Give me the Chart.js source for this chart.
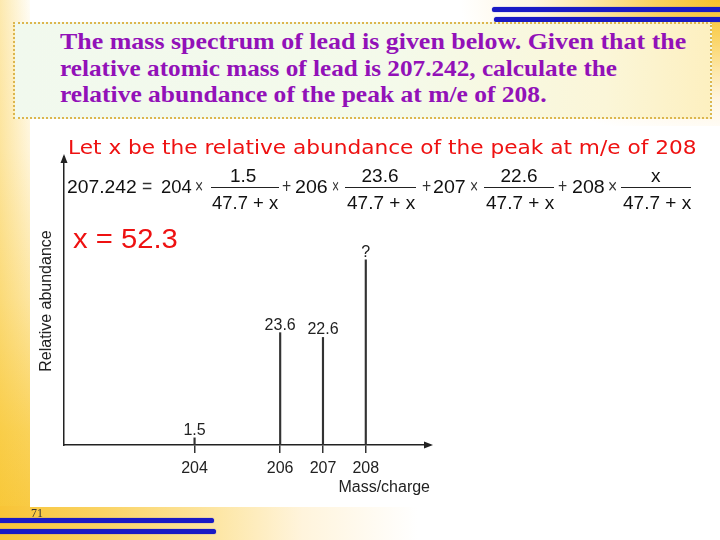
<!DOCTYPE html>
<html>
<head>
<meta charset="utf-8">
<script src="https://cdn.jsdelivr.net/npm/chart.js@4/dist/chart.umd.min.js"></script>
<style>
  html, body { margin: 0; padding: 0; background: #fff; }
  #slide { position: relative; width: 720px; height: 540px; overflow: hidden; background: #fff; }
  #slide > div { position: absolute; }
  .bg-left {
    left: 0; top: 0; width: 30px; height: 540px;
    background:
      linear-gradient(to right, rgba(247, 196, 40, 0.35), rgba(255, 255, 255, 0)),
      linear-gradient(to bottom, #fffdf7 0%, #fff5da 28%, #fde6a2 55%, #fad259 80%, #f8c73a 100%);
  }
  .bg-tr {
    right: 0; top: 0; width: 300px; height: 150px;
    background: radial-gradient(ellipse 260px 140px at 100% 0%, #f8c02a 0%, #fad25e 25%, #fde7a8 50%, #fff6e2 72%, rgba(255, 255, 255, 0) 100%);
  }
  .bg-bottom {
    left: 0; top: 506px; width: 720px; height: 34px;
    background: linear-gradient(to right, #f8c436 0%, #fad363 14%, #fde6a4 30%, #fff4dc 42%, rgba(255, 255, 255, 0) 58%);
  }
  .panel { left: 30px; top: 126px; width: 690px; height: 381px; background: #fff; }
  .rule { height: 5px; border-radius: 3px; background: #1a1ac4; box-shadow: 0 0 1px #3030d0; }
  .box {
    left: 13px; top: 22px; width: 695px; height: 93px;
    border: 2px dotted #dcb64e;
    background: linear-gradient(to right, #f1f9ee 0%, #f4faea 55%, #fbf6d8 85%, #fdf0c0 100%);
  }
  .t { position: absolute; white-space: nowrap; line-height: 1; transform-origin: 0 0; }
  .title { font: bold 23px "Liberation Serif", serif; color: #9211b8; }
  .red { color: #ee1111; }
  .fx { font: 19px "Liberation Sans", Arial, sans-serif; color: #111; }
  .op { color: #333; font-size: 21px; }
  .bar { position: absolute; height: 1px; background: #222; }
  #chart { position: absolute; left: 0; top: 0; }
</style>
</head>
<body>
<div id="slide">
  <div class="bg-left"></div>
  <div class="bg-tr"></div>
  <div class="bg-bottom"></div>
  <div class="panel"></div>

  <div class="rule" style="left:492px; top:7px; width:240px;"></div>
  <div class="rule" style="left:494px; top:17px; width:240px;"></div>
  <div class="rule" style="left:-10px; top:518px; width:224px;"></div>
  <div class="rule" style="left:-10px; top:529px; width:226px;"></div>

  <div class="box"></div>
  <span class="t title" style="left:60px; top:28.7px;" data-w="626">The mass spectrum of lead is given below. Given that the</span>
  <span class="t title" style="left:60px; top:55.7px;" data-w="557">relative atomic mass of lead is 207.242, calculate the</span>
  <span class="t title" style="left:60px; top:81.7px;" data-w="486">relative abundance of the peak at m/e of 208.</span>

  <canvas id="chart" width="720" height="540"></canvas>

  <span class="t red" style="left:68px; top:135px; font:20px 'DejaVu Sans', sans-serif;" data-w="629">Let x be the relative abundance of the peak at m/e of 208</span>

  <span class="t fx" style="left:67px; top:176px;" data-w="70">207.242</span>
  <span class="t fx op" style="left:142px; top:174px;" data-w="10">=</span>
  <span class="t fx" style="left:161px; top:176px;" data-w="31">204</span>
  <span class="t fx op" style="left:195px; top:174px;" data-w="8">×</span>
  <span class="t fx" style="top:165.4px;" data-cx="243">1.5</span>
  <div class="bar" style="left:211px; top:187px; width:68px;"></div>
  <span class="t fx" style="left:212px; top:191.6px;" data-w="66">47.7 + x</span>

  <span class="t fx op" style="left:282px; top:174px;" data-w="9">+</span>
  <span class="t fx" style="left:295px; top:176px;" data-w="33">206</span>
  <span class="t fx op" style="left:332px; top:174px;" data-w="7">×</span>
  <span class="t fx" style="top:165.4px;" data-cx="380">23.6</span>
  <div class="bar" style="left:345px; top:187px; width:71px;"></div>
  <span class="t fx" style="left:347px; top:191.6px;" data-w="68">47.7 + x</span>

  <span class="t fx op" style="left:422px; top:174px;" data-w="9">+</span>
  <span class="t fx" style="left:433px; top:176px;" data-w="33">207</span>
  <span class="t fx op" style="left:470px; top:174px;" data-w="8">×</span>
  <span class="t fx" style="top:165.4px;" data-cx="519">22.6</span>
  <div class="bar" style="left:484px; top:187px; width:70px;"></div>
  <span class="t fx" style="left:486px; top:191.6px;" data-w="68">47.7 + x</span>

  <span class="t fx op" style="left:558px; top:174px;" data-w="9">+</span>
  <span class="t fx" style="left:572px; top:176px;" data-w="33">208</span>
  <span class="t fx op" style="left:608px; top:174px;" data-w="9">×</span>
  <span class="t fx" style="top:165.4px;" data-cx="656">x</span>
  <div class="bar" style="left:621px; top:187px; width:70px;"></div>
  <span class="t fx" style="left:623px; top:191.6px;" data-w="68">47.7 + x</span>

  <span class="t red" style="left:73px; top:224px; font:27px 'Liberation Sans', Arial, sans-serif;" data-w="105">x = 52.3</span>

  <span class="t" style="left:31px; top:506px; font:12px 'Liberation Serif', serif; color:#333;">71</span>
</div>

<script>
// peaks of the lead spectrum
const massValues = [204, 206, 207, 208];
const abundance = [1.5, 23.6, 22.6, 38.9];
const peakLabels = ['1.5', '23.6', '22.6', '?'];
const tickValues = [204, 206, 207, 208];

// stretch the slide text to the widths seen on the slide
document.querySelectorAll('.t[data-w]').forEach(el => {
    const k = Number(el.dataset.w) / el.offsetWidth;
    el.style.transform = 'scaleX(' + k + ')';
});
document.querySelectorAll('.t[data-cx]').forEach(el => {
    el.style.left = (Number(el.dataset.cx) - el.offsetWidth / 2) + 'px';
});

const ink = '#222';
const stemInk = '#333';
const axisFont = { family: "'Liberation Sans', Arial, sans-serif", size: 16 };

// 1. labels above each stem
const peakLabelPlugin = {
    id: 'peakLabels',
    afterDatasetsDraw(chart) {
        const ctx = chart.ctx;
        const meta = chart.getDatasetMeta(0);
        ctx.save();
        ctx.fillStyle = ink;
        ctx.font = "16px 'Liberation Sans', Arial, sans-serif";
        ctx.textAlign = 'center';
        ctx.textBaseline = 'alphabetic';
        meta.data.forEach((bar, i) => {
            ctx.fillText(peakLabels[i], bar.x, bar.y - 3);
        });
        ctx.restore();
    }
};

// 2. arrow heads on both axes
const arrowPlugin = {
    id: 'axisArrows',
    afterDraw(chart) {
        const { ctx, chartArea: a } = chart;
        ctx.save();
        ctx.fillStyle = ink;
        ctx.beginPath();
        ctx.moveTo(a.left, a.top - 3);
        ctx.lineTo(a.left - 3.5, a.top + 6);
        ctx.lineTo(a.left + 3.5, a.top + 6);
        ctx.closePath();
        ctx.fill();
        ctx.beginPath();
        ctx.moveTo(a.right + 3, a.bottom);
        ctx.lineTo(a.right - 6, a.bottom - 3.5);
        ctx.lineTo(a.right - 6, a.bottom + 3.5);
        ctx.closePath();
        ctx.fill();
        ctx.restore();
    }
};

const chart = new Chart(document.getElementById('chart'), {
    type: 'bar',
    data: {
        datasets: [{
            data: massValues.map((m, i) => ({ x: m, y: abundance[i] })),
            backgroundColor: stemInk,
            barThickness: 1.5
        }]
    },
    options: {
        responsive: false,
        animation: false,
        devicePixelRatio: 1,
        layout: { padding: { left: 30, top: 157, right: 290, bottom: 43 } },
        plugins: { legend: { display: false }, tooltip: { enabled: false } },
        scales: {
            x: {
                type: 'linear',
                offset: false,
                min: 200.95,
                max: 209.5,
                afterBuildTicks: s => { s.ticks = tickValues.map(v => ({ value: v })); },
                afterFit: s => { s.height = 52; },
                ticks: { color: ink, font: axisFont, padding: 6, callback: v => String(v) },
                grid: { display: true, offset: false, drawOnChartArea: false, drawTicks: true, tickLength: 8, color: stemInk, lineWidth: 1.5 },
                border: { display: true, color: ink, width: 1.5 },
                title: { display: true, text: 'Mass/charge', align: 'end', color: ink, font: axisFont, padding: { top: 0, bottom: 0 } }
            },
            y: {
                min: 0,
                max: 60.5,
                afterFit: s => { s.width = 34; },
                ticks: { display: false },
                grid: { display: false },
                border: { display: true, color: ink, width: 1.5 },
                title: { display: true, text: 'Relative abundance', color: ink, font: axisFont, padding: { top: 7, bottom: 0 } }
            }
        }
    },
    plugins: [peakLabelPlugin, arrowPlugin]
});
</script>
</body>
</html>
